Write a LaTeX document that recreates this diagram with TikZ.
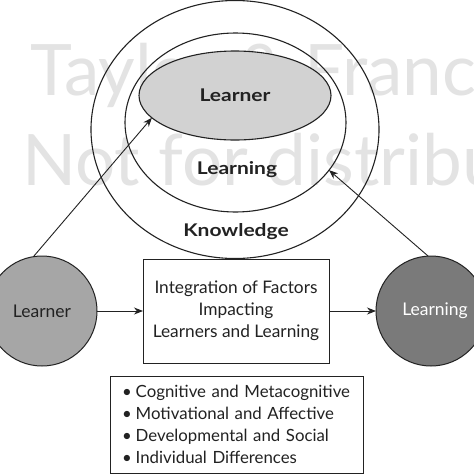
\documentclass[tikz,border=0pt]{standalone}
\usepackage{fontspec}
\setmainfont{Lato}
\usetikzlibrary{arrows.meta,shapes.geometric}
\definecolor{lightfill}{HTML}{D2D2D2}
\definecolor{midfill}{HTML}{A6A6A6}
\definecolor{darkfill}{HTML}{7A7A7A}
\definecolor{wmgray}{HTML}{E3E3E3}
\definecolor{linec}{HTML}{222222}
\newcommand{\widebold}[1]{\scalebox{1.2}[1]{\bfseries #1}}
\begin{document}
\begin{tikzpicture}[x=1pt,y=-1pt,
  wm/.style={text=wmgray, font=\fontsize{71}{71}\selectfont, inner sep=0pt, anchor=base west},
  ring/.style={draw=linec, line width=1.1pt, ellipse, inner sep=0pt, outer sep=0pt},
  bold/.style={font=\fontsize{17.5}{20}\selectfont, text=linec},
  disc/.style={draw=linec, line width=1pt, circle, minimum size=110pt, inner sep=0pt, outer sep=0pt, font=\fontsize{17.5}{20}\selectfont},
  panel/.style={draw=linec, line width=1pt, inner sep=0pt, outer sep=0pt, font=\fontsize{17.3}{22}\selectfont, text=linec},
  listpanel/.style={panel, font=\fontsize{16.8}{22}\selectfont},
  arr/.style={draw=linec, line width=0.9pt, -{Stealth[length=9pt,width=7pt]}}
]
\useasboundingbox (0,0) rectangle (474,474);
\clip (0,0) rectangle (474,474);
\fill[white] (0,0) rectangle (474,474);
% watermark
\node[wm] (wm1) at (30,95) {Taylor \& Francis};
\node[wm] (wm2) at (22,185) {Not for distribution};
% nested ellipses
\node[ring, minimum width=288pt, minimum height=258pt] (know) at (235,129.5) {};
\node[ring, minimum width=221pt, minimum height=179pt] (learnring) at (235.5,122.5) {};
\node[ring, fill=lightfill, minimum width=192pt, minimum height=89pt, bold] (inner) at (235,95.5) {\widebold{Learner}};
\node[bold] (learnlbl) at (237,170) {\widebold{Learning}};
\node[bold] (knowlbl) at (236,232) {\widebold{Knowledge}};
% side circles
\node[disc, fill=midfill, text=linec] (lcirc) at (42,311) {Learner};
\node[disc, fill=darkfill, text=white] (rcirc) at (431,311) {\hspace*{8pt}Learning};
% central box
\node[panel, minimum width=186pt, minimum height=104pt, align=center] (box) at (236,311)
  {Integration of Factors\\Impacting\\Learners and Learning};
% bullet box
\node[listpanel, minimum width=253pt, minimum height=97pt, anchor=north west, align=left, text width=253pt] (list) at (110,376)
  {\hspace*{12pt}\textbullet\hspace{4pt}Cognitive and Metacognitive\\
   \hspace*{12pt}\textbullet\hspace{4pt}Motivational and Affective\\
   \hspace*{12pt}\textbullet\hspace{4pt}Developmental and Social\\
   \hspace*{12pt}\textbullet\hspace{4pt}Individual Differences};
% connectors
\draw[arr] (lcirc) -- (box);
\draw[arr] (box) -- (rcirc);
\draw[arr] (lcirc.99) -- (inner.195);
\draw[arr] (rcirc.93) -- (learnring.-27);
\end{tikzpicture}
\end{document}
